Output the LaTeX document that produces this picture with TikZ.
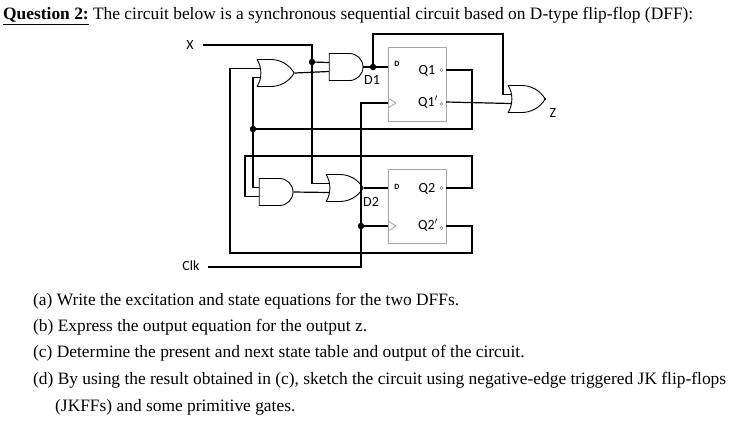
\documentclass[tikz,border=0pt]{standalone}
\usepackage{fontspec}
\setmainfont{Liberation Serif}
\newfontfamily\lab{Carlito}
\usetikzlibrary{shapes.gates.logic.US}
\begin{document}
\begin{tikzpicture}[x=1pt,y=-1pt,
  wire/.style={line width=1.2pt},
  gate/.style={draw,line width=0.9pt,logic gate inputs=nn,minimum height=25pt,minimum width=32pt,logic gate input sep=9pt,anchor=center},
  ff/.style={draw=gray!70,line width=0.8pt,minimum width=58pt,minimum height=74pt,inner sep=0pt},
  lbl/.style={font=\lab\fontsize{14}{14}\selectfont,inner sep=0pt},
  sml/.style={font=\lab\fontsize{8}{8}\selectfont\bfseries,inner sep=0pt},
  dot/.style={circle,fill,inner sep=0pt,minimum size=6.5pt},
  txt/.style={anchor=west,inner sep=0pt,font=\fontsize{17.4}{17.4}\selectfont}]
\useasboundingbox (0,0) rectangle (750,437);
\node[txt] (q) at (3,16) {\textbf{\underline{Question 2:}} The circuit below is a synchronous sequential circuit based on D-type flip-flop (DFF):};
\node[txt] (ta) at (33,301) {(a) Write the excitation and state equations for the two DFFs.};
\node[txt] (tb) at (33,327) {(b) Express the output equation for the output z.};
\node[txt] (tc) at (33,353) {(c) Determine the present and next state table and output of the circuit.};
\node[txt] (td) at (33,380) {(d) By using the result obtained in (c), sketch the circuit using negative-edge triggered JK flip-flops};
\node[txt] (te) at (55,407) {(JKFFs) and some primitive gates.};
% flip-flops
\node[ff] (f1) at (417,84.5) {};
\node[ff] (f2) at (417,206.5) {};
\node[sml] at (397,64) {D};
\node[sml] at (397,187) {D};
\draw[gray!70,line width=0.8pt] (388,98)--(396,103)--(388,108);
\draw[gray!70,line width=0.8pt] (388,221)--(396,226)--(388,231);
\node[lbl] (q1) at (427,71) {Q1};
\node[lbl] (q1b) at (428,102) {Q1$'$};
\node[lbl] (q2) at (427,189) {Q2};
\node[lbl] (q2b) at (428,225) {Q2$'$};
\foreach \yy in {70,104,188,228}{\draw[gray,line width=0.5pt] (441.5,\yy) circle (1.6pt);}
% gates
\node[and gate US,gate] (and1) at (345,67) {};
\node[or gate US,gate] (or1) at (273,73) {};
\node[and gate US,gate] (and2) at (275,192) {};
\node[or gate US,gate] (or2) at (342,188) {};
\node[or gate US,gate] (or3) at (524,99) {};
\node[lbl] (lx) at (190,45) {X};
\node[lbl] (lclk) at (191,266) {Clk};
\node[lbl] (lz) at (553,113) {Z};
\node[lbl] (ld1) at (372,80) {D1};
\node[lbl] (ld2) at (371,202) {D2};
\coordinate (xdot) at (312,62);
\coordinate (d1dot) at (373,67);
\coordinate (qdot) at (253,129);
\coordinate (cdot) at (361,226);
\node[dot] at (xdot) {};
\node[dot] at (d1dot) {};
\node[dot] at (qdot) {};
\node[dot] at (cdot) {};
% wires
\draw[wire] (203,45) -| (xdot) |- (or2.input 1);
\draw[wire] (xdot) -- (and1.input 1);
\draw[wire] (or1.output) -- (and1.input 2);
\draw[wire] (and1.output) -- (d1dot) -- (388,67);
\draw[wire] (d1dot) |- (503,34) |- (or3.input 1);
\draw[wire] (446,102) -- (or3.input 2);
\draw[wire] (or3.output) -- (544,99);
\draw[wire] (446,70) -| (472,129) -- (qdot);
\draw[wire] (or1.input 2) -| (qdot) |- (and2.input 1);
\draw[wire] (or1.input 1) -| (230,253) -| (472,226) -- (446,226);
\draw[wire] (and2.input 2) -| (245,156) -| (472,188) -- (446,188);
\draw[wire] (and2.output) -- (or2.input 2);
\draw[wire] (or2.output) -- (388,188);
\draw[wire] (208,267) -| (cdot) |- (388,103);
\draw[wire] (cdot) -- (388,226);
\end{tikzpicture}
\end{document}
